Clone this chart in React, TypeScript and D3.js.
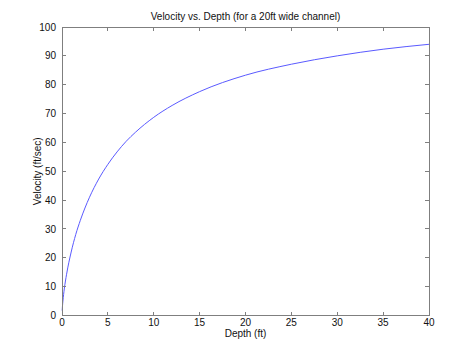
import { useMemo } from "react";
import { line, scaleLinear, curveMonotoneX } from "d3";

// depth (ft) and velocity (ft/sec)
const depths = [0.02, 0.05, 0.1, 0.25, 0.5, 1, 1.5, 2, 3, 4, 5, 6, 7, 8, 10, 12, 15, 20, 25, 30, 35, 40];
const velocities = [1.7, 3.2, 5.0, 9.2, 14.3, 22.0, 28.1, 33.0, 41.0, 47.3, 52.4, 56.7, 60.4, 63.5, 68.7, 72.8, 77.6, 83.3, 87.1, 90.0, 92.3, 94.0];

const xTicks = [0, 5, 10, 15, 20, 25, 30, 35, 40];
const yTicks = [0, 10, 20, 30, 40, 50, 60, 70, 80, 90, 100];

const title = "Velocity vs. Depth (for a 20ft wide channel)";
const xLabel = "Depth (ft)";
const yLabel = "Velocity (ft/sec)";

const W = 474;
const H = 355;
const left = 62;
const right = 429;
const top = 27;
const bottom = 315.5;
const tickLen = 4;
const axisColor = "#7f7f7f";
const font = "'Liberation Sans', Arial, Helvetica, sans-serif";

export default function App() {
  const x = useMemo(() => scaleLinear().domain([0, 40]).range([left, right]), []);
  const y = useMemo(() => scaleLinear().domain([0, 100]).range([bottom, top]), []);

  const pathData = useMemo(() => {
    const pts = depths.map((d, i) => [d, velocities[i]] as [number, number]);
    return (
      line<[number, number]>()
        .x((p) => x(p[0]))
        .y((p) => y(p[1]))
        .curve(curveMonotoneX)(pts) || ""
    );
  }, [x, y]);

  return (
    <svg
      width={W}
      height={H}
      style={{ position: "absolute", left: 0, top: 0, background: "#fff" }}
      fontFamily={font}
    >
      <rect x={0} y={0} width={W} height={H} fill="#fff" />
      {/* curve */}
      <path d={pathData} fill="none" stroke="#5a5aff" strokeWidth={1} />
      {/* box */}
      <rect
        x={left}
        y={top}
        width={right - left}
        height={bottom - top}
        fill="none"
        stroke={axisColor}
        strokeWidth={1}
        shapeRendering="crispEdges"
      />
      {/* x ticks */}
      {xTicks.map((t) => (
        <g key={`x${t}`}>
          <line x1={x(t)} x2={x(t)} y1={bottom} y2={bottom - tickLen} stroke={axisColor} shapeRendering="crispEdges" />
          <line x1={x(t)} x2={x(t)} y1={top} y2={top + tickLen} stroke={axisColor} shapeRendering="crispEdges" />
          <text x={x(t)} y={bottom + 10.5} textAnchor="middle" fontSize={10} fill="#111">
            {t}
          </text>
        </g>
      ))}
      {/* y ticks */}
      {yTicks.map((t) => (
        <g key={`y${t}`}>
          <line x1={left} x2={left + tickLen} y1={y(t)} y2={y(t)} stroke={axisColor} shapeRendering="crispEdges" />
          <line x1={right} x2={right - tickLen} y1={y(t)} y2={y(t)} stroke={axisColor} shapeRendering="crispEdges" />
          <text x={left - 6} y={y(t) + 3.6} textAnchor="end" fontSize={10} fill="#111">
            {t}
          </text>
        </g>
      ))}
      {/* labels */}
      <text x={(left + right) / 2} y={20} textAnchor="middle" fontSize={10} fill="#111">
        {title}
      </text>
      <text x={(left + right) / 2} y={337} textAnchor="middle" fontSize={10} fill="#111">
        {xLabel}
      </text>
      <text
        transform={`translate(41,${(top + bottom) / 2}) rotate(-90)`}
        textAnchor="middle"
        fontSize={10}
        fill="#111"
      >
        {yLabel}
      </text>
    </svg>
  );
}
